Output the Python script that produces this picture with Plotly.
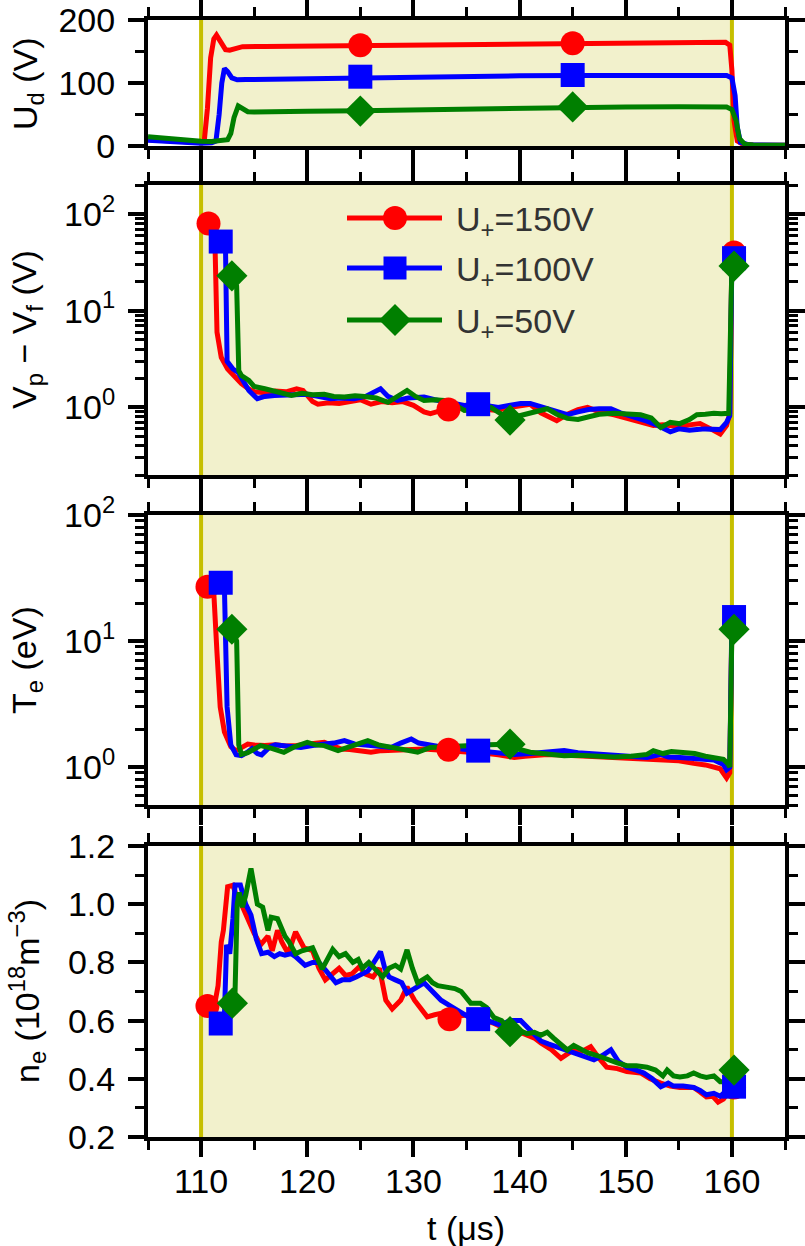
import math
import plotly.graph_objects as go

W, H = 805, 1246

# ---------------- data ----------------
# Panel 1: discharge voltage U_d (V)
t_ud_red = [105, 106, 107, 108, 109, 110, 110.3, 110.6, 110.9, 111.2, 111.45, 111.8, 112.3, 112.7, 113.2, 113.9, 116, 120, 125, 130, 135, 140, 145, 150, 155, 158.5, 159.4, 159.8, 160.0, 160.2, 160.5, 161, 162, 165]
ud_red = [10, 9, 8, 7, 6, 5.5, 8, 60, 140, 170, 176, 165, 153, 152, 155, 157.6, 158, 158.5, 159.5, 160.5, 161.5, 162.3, 163, 163.8, 164.5, 165, 164.5, 160, 120, 40, 8, 3, 1.5, 1]
t_ud_blue = [105, 106, 107, 108, 109, 110, 111, 111.4, 111.7, 111.95, 112.2, 112.5, 112.9, 113.4, 114.2, 116, 120, 125, 130, 135, 140, 145, 150, 155, 158.5, 159.5, 160, 160.3, 160.5, 160.8, 161.5, 163, 165]
ud_blue = [9, 8, 7, 6, 5, 4.5, 5, 8, 50, 100, 123, 118, 108, 105, 105.5, 106, 107, 108.5, 109.5, 110.5, 111.5, 112, 112.5, 113, 113, 112, 108, 80, 30, 6, 2, 1, 1]
t_ud_green = [105, 106, 107, 108, 109, 110, 111, 112, 112.5, 112.8, 113.1, 113.5, 113.9, 114.4, 115, 116, 120, 125, 130, 135, 140, 145, 150, 155, 158.5, 159.5, 160, 160.4, 160.7, 161.2, 162, 165]
ud_green = [14.8, 13, 11.5, 10, 8.5, 7.5, 7, 8, 10, 20, 45, 63.5, 60, 54.5, 54, 54.5, 55, 56, 57.5, 58.5, 60, 61.5, 62, 62.5, 63, 62, 58, 40, 12, 3, 1.5, 1]
mk_ud_t = [125, 145]
mk_ud_red = [160, 163]
mk_ud_blue = [110, 112.7]
mk_ud_green = [55.5, 62]

# Panel 2: V_p - V_f (V)
t_vp_red = [110.7, 111.3, 111.5, 111.9, 112.5, 113.0, 113.5, 113.8, 114.5, 115, 116, 117, 118, 119, 119.6, 120.5, 121, 122, 123, 124, 125, 126, 127, 128, 129, 130, 131, 131.6, 132.5, 133.3, 134, 135, 136, 137, 137.9, 139, 140, 141, 142, 143.5, 144.5, 145.5, 146.4, 147.5, 148.9, 150.4, 151.5, 152.6, 153.5, 155.1, 156, 157, 158, 158.9, 159.5, 159.8, 160.0]
vp_red = [80, 55, 6, 3.3, 2.5, 2.2, 1.9, 1.76, 1.55, 1.45, 1.42, 1.48, 1.45, 1.56, 1.5, 1.15, 1.08, 1.12, 1.1, 1.15, 1.2, 1.08, 1.15, 1.12, 1.15, 1.05, 0.9, 0.86, 0.92, 0.93, 1.0, 1.05, 1.02, 0.95, 0.93, 1.0, 1.05, 1.08, 0.88, 0.73, 0.85, 0.95, 1.0, 0.9, 0.84, 0.76, 0.7, 0.65, 0.66, 0.63, 0.66, 0.68, 0.6, 0.53, 0.65, 0.87, 38]
t_vp_blue = [111.85, 112.3, 112.45, 113, 113.5, 113.8, 114.5, 115.3, 116, 116.9, 118, 119, 120, 121, 122.2, 123.2, 124.4, 125.5, 126.9, 127.6, 128.5, 129.5, 131, 132, 132.9, 134, 134.8, 136.1, 137, 138, 139, 140.1, 141, 142.5, 143.5, 144.5, 145.5, 146.5, 147.5, 148.6, 149.5, 151.1, 152, 153, 154.2, 155, 156, 156.7, 157.5, 158.9, 159.5, 159.8, 160.0]
vp_blue = [52, 45, 3, 2.5, 2.3, 2.0, 1.5, 1.23, 1.3, 1.33, 1.35, 1.37, 1.37, 1.3, 1.23, 1.25, 1.23, 1.3, 1.56, 1.3, 1.18, 1.25, 1.28, 1.2, 1.15, 1.1, 1.05, 1.08, 1.05, 1.0, 1.05, 1.1, 1.1, 0.98, 0.9, 0.84, 0.9, 0.95, 0.97, 0.97, 0.88, 0.78, 0.72, 0.65, 0.56, 0.6, 0.58, 0.59, 0.6, 0.59, 0.7, 0.82, 35]
t_vp_green = [112.9, 113.35, 113.55, 113.8, 114.5, 115, 116, 117, 118.5, 119.5, 120.5, 121.6, 122.5, 123.5, 124.5, 125.4, 126.5, 127.6, 128.5, 129.4, 130.2, 131, 132, 132.9, 134, 134.8, 136, 137.3, 138.3, 139.1, 140, 141, 142.6, 143.5, 144.5, 145.5, 146.5, 147.5, 148.9, 150, 151.4, 152.4, 153.3, 154.2, 155.1, 156, 156.7, 157.5, 158.3, 159, 159.7, 160.0]
vp_green = [23, 18, 2.4, 2.14, 1.9, 1.65, 1.56, 1.45, 1.33, 1.4, 1.35, 1.37, 1.3, 1.28, 1.32, 1.3, 1.25, 1.13, 1.3, 1.5, 1.3, 1.18, 1.2, 1.18, 1.05, 0.93, 0.95, 1.0, 0.85, 0.78, 0.82, 0.87, 0.97, 0.85, 0.77, 0.75, 0.8, 0.85, 0.87, 0.86, 0.84, 0.78, 0.62, 0.7, 0.68, 0.75, 0.84, 0.85, 0.87, 0.86, 0.87, 30]
mk_vp_t_red = [110.7, 133.3, 160.2]
mk_vp_red = [80, 0.95, 40]
mk_vp_t_blue = [111.85, 136.1, 160.2]
mk_vp_blue = [52, 1.08, 35]
mk_vp_t_green = [112.9, 139.1, 160.2]
mk_vp_green = [23, 0.74, 29]

# Panel 3: T_e (eV)
t_te_red = [110.6, 111.2, 111.5, 111.8, 112.2, 112.8, 113.3, 114, 114.4, 115, 116, 117, 118, 119, 120, 121, 121.6, 122.5, 123.2, 124, 125, 126, 127, 128, 129, 130, 131, 132, 133.3, 134, 135, 136, 137, 138, 139.5, 140.5, 141.5, 142.6, 143.5, 144.5, 145.7, 146.5, 147.5, 148.5, 149.5, 150.5, 151.5, 152.5, 153.9, 155, 156.4, 157.5, 158.9, 159.5, 159.8, 160.0]
te_red = [27, 24, 8, 3, 1.9, 1.45, 1.35, 1.45, 1.52, 1.5, 1.48, 1.5, 1.47, 1.48, 1.5, 1.55, 1.57, 1.45, 1.39, 1.38, 1.35, 1.31, 1.35, 1.36, 1.38, 1.4, 1.39, 1.37, 1.35, 1.33, 1.3, 1.3, 1.28, 1.25, 1.19, 1.22, 1.25, 1.26, 1.25, 1.24, 1.23, 1.22, 1.2, 1.18, 1.17, 1.18, 1.17, 1.16, 1.14, 1.12, 1.07, 1.04, 0.97, 0.82, 0.9, 14]
t_te_blue = [111.85, 112.2, 112.45, 112.8, 113.3, 113.8, 114.3, 114.8, 115.3, 115.7, 116.5, 117, 118, 119.4, 120.5, 121.5, 122.5, 123.5, 124.5, 126, 127.9, 128.8, 129.8, 130.5, 131.6, 132.5, 134.1, 136.1, 137.5, 139.5, 141, 142.5, 144.2, 145.5, 147, 148.9, 150.5, 152, 153.3, 154, 155.1, 156.5, 158.3, 159.2, 159.5, 159.8, 160.0]
te_blue = [29, 26, 3, 1.5, 1.25, 1.23, 1.3, 1.4, 1.28, 1.25, 1.45, 1.5, 1.47, 1.43, 1.48, 1.5, 1.55, 1.62, 1.52, 1.48, 1.43, 1.55, 1.67, 1.55, 1.48, 1.45, 1.4, 1.35, 1.3, 1.26, 1.28, 1.32, 1.35, 1.3, 1.27, 1.23, 1.2, 1.19, 1.26, 1.2, 1.19, 1.17, 1.14, 1.05, 0.95, 1.0, 15.5]
t_te_green = [112.9, 113.35, 113.55, 113.8, 114.4, 115.3, 115.6, 116.5, 117.8, 118.8, 120, 120.8, 121.6, 122.9, 124, 125.7, 126.7, 127.9, 129, 130.4, 131.6, 133, 134.1, 135.5, 137, 139.1, 140, 141, 142.5, 144.2, 145.5, 147, 148.9, 150.5, 152, 152.6, 153.5, 154.3, 155.1, 156.5, 157.5, 158.3, 159.2, 159.6, 159.8, 160.0]
te_green = [12.4, 10, 1.5, 1.26, 1.3, 1.43, 1.48, 1.42, 1.31, 1.45, 1.57, 1.5, 1.48, 1.35, 1.45, 1.62, 1.5, 1.43, 1.38, 1.31, 1.43, 1.45, 1.48, 1.47, 1.5, 1.52, 1.38, 1.31, 1.28, 1.23, 1.24, 1.22, 1.2, 1.22, 1.26, 1.35, 1.28, 1.33, 1.31, 1.28, 1.22, 1.19, 1.15, 1.07, 1.0, 12.4]
mk_te_t_red = [110.6, 133.3, 160.2]
mk_te_red = [27, 1.37, 14]
mk_te_t_blue = [111.85, 136.1, 160.2]
mk_te_blue = [29, 1.35, 15.5]
mk_te_t_green = [112.9, 139.1, 160.2]
mk_te_green = [12.4, 1.52, 12.4]

# Panel 4: n_e (1e18 m^-3)
t_ne_red = [110.6, 111.3, 111.6, 111.9, 112.1, 112.5, 113.0, 113.4, 113.8, 114.4, 115, 115.6, 116.3, 116.7, 117.2, 117.6, 118.2, 118.9, 119.7, 120.5, 121.1, 121.7, 122.3, 123, 123.6, 124.2, 124.9, 125.5, 126.2, 126.8, 127.4, 128, 128.8, 129.4, 130.1, 130.7, 131.3, 132, 132.6, 133.4, 134.3, 135.1, 136, 136.8, 137.6, 138.8, 139.7, 140.7, 141.4, 142, 143, 143.9, 144.5, 145.1, 145.9, 146.7, 147.5, 148.2, 149.2, 150.1, 151.4, 152.3, 153.3, 154.2, 155.1, 155.8, 156.4, 157, 157.6, 158.2, 158.7, 159.2, 159.6]
ne_red = [0.65, 0.66, 0.72, 0.87, 0.91, 1.06, 1.065, 1.02, 1.0, 0.945, 0.9, 0.86, 0.89, 0.84, 0.91, 0.87, 0.83, 0.905, 0.85, 0.84, 0.78, 0.74, 0.76, 0.78, 0.755, 0.76, 0.785, 0.76, 0.75, 0.78, 0.67, 0.64, 0.67, 0.716, 0.67, 0.64, 0.613, 0.62, 0.625, 0.61, 0.615, 0.62, 0.6, 0.6, 0.59, 0.57, 0.565, 0.55, 0.54, 0.523, 0.5, 0.47, 0.485, 0.5, 0.495, 0.51, 0.47, 0.44, 0.435, 0.425, 0.42, 0.4, 0.385, 0.375, 0.37, 0.37, 0.37, 0.355, 0.338, 0.34, 0.32, 0.33, 0.35]
t_ne_blue = [111.85, 112.2, 112.4, 112.7, 113.0, 113.2, 113.7, 114.2, 114.7, 115.2, 115.7, 116.3, 116.9, 117.4, 117.9, 118.5, 118.9, 119.4, 119.8, 120.5, 121.1, 121.8, 122.4, 122.7, 123.3, 124, 124.6, 125.2, 125.7, 126.1, 126.9, 127.3, 127.7, 128.3, 128.9, 129.4, 130.2, 131, 131.8, 132.6, 133.5, 134.5, 135.3, 136.1, 137.0, 138.2, 139.1, 140.1, 141, 142, 142.7, 143.5, 144.3, 145.1, 146, 147, 147.8, 148.6, 149.3, 150.1, 151, 151.7, 152.5, 153.3, 154, 154.5, 155.4, 156.4, 157, 157.6, 158.3, 158.9, 159.5]
ne_blue = [0.59, 0.62, 0.86, 0.83, 0.95, 1.066, 1.066, 1.0, 0.963, 0.88, 0.83, 0.835, 0.82, 0.83, 0.825, 0.83, 0.82, 0.8, 0.79, 0.8, 0.8, 0.77, 0.745, 0.73, 0.74, 0.74, 0.75, 0.76, 0.77, 0.79, 0.837, 0.78, 0.75, 0.74, 0.73, 0.694, 0.71, 0.73, 0.7, 0.67, 0.65, 0.63, 0.61, 0.605, 0.6, 0.585, 0.6, 0.6, 0.565, 0.53, 0.52, 0.51, 0.5, 0.488, 0.475, 0.465, 0.48, 0.5, 0.46, 0.44, 0.43, 0.42, 0.4, 0.373, 0.385, 0.375, 0.375, 0.37, 0.36, 0.345, 0.35, 0.34, 0.36]
t_ne_green = [112.95, 113.2, 113.4, 113.6, 113.9, 114.2, 114.7, 115.3, 115.8, 116.3, 116.6, 117.2, 117.9, 118.3, 118.9, 119.5, 120.5, 121.4, 122.4, 123, 123.6, 124.3, 124.8, 125.2, 125.8, 126.5, 127.1, 127.7, 128.3, 128.8, 129.4, 129.9, 130.4, 131.3, 131.8, 132.3, 133.2, 133.9, 134.5, 135.4, 136.3, 136.9, 137.6, 138.3, 139.1, 140, 140.7, 141.4, 142, 142.6, 143.2, 143.8, 144.5, 145.1, 145.8, 146.4, 147.3, 148.2, 149.2, 150.1, 151, 152, 152.8, 153.5, 153.9, 154.5, 155.1, 155.8, 156.4, 157, 157.6, 158.3, 158.9, 159.5, 160.1]
ne_green = [0.66, 0.7, 1.0, 1.04, 0.99, 1.03, 1.123, 1.0, 0.99, 0.91, 0.955, 0.95, 0.89, 0.87, 0.83, 0.84, 0.85, 0.777, 0.845, 0.82, 0.83, 0.8, 0.81, 0.78, 0.8, 0.77, 0.75, 0.78, 0.79, 0.777, 0.843, 0.78, 0.73, 0.75, 0.73, 0.72, 0.715, 0.71, 0.7, 0.66, 0.66, 0.645, 0.61, 0.6, 0.565, 0.565, 0.555, 0.56, 0.55, 0.56, 0.54, 0.52, 0.499, 0.515, 0.5, 0.49, 0.48, 0.466, 0.455, 0.445, 0.445, 0.44, 0.43, 0.41, 0.43, 0.41, 0.406, 0.41, 0.42, 0.41, 0.405, 0.41, 0.39, 0.39, 0.43]
mk_ne_t_red = [110.6, 133.4, 160.2]
mk_ne_red = [0.65, 0.605, 0.37]
mk_ne_t_blue = [111.85, 136.1, 160.2]
mk_ne_blue = [0.59, 0.605, 0.373]
mk_ne_t_green = [112.95, 139.1, 160.2]
mk_ne_green = [0.66, 0.562, 0.43]

series_names = ["U<sub>+</sub>=150V", "U<sub>+</sub>=100V", "U<sub>+</sub>=50V"]
x_major = [110, 120, 130, 140, 150, 160]
x_minor = [105, 115, 125, 135, 145, 155, 165]

# ---------------- styling ----------------
RED, BLUE, GREEN = "#FF0000", "#0000FF", "#007F00"
COLORS = [RED, BLUE, GREEN]
SYMBOLS = ["circle", "square", "diamond"]
SHADE = "#F2F1CC"
EDGE = "#C6BF00"
FONT = "Liberation Sans, Arial, sans-serif"
FS = 34
LW = 5
AXW = 4


def px(x):
    return x / W


def py(y):
    return 1 - y / H


fig = go.Figure()

panels = [
    ("", [(t_ud_red, ud_red), (t_ud_blue, ud_blue), (t_ud_green, ud_green)],
     [(mk_ud_t, mk_ud_red), (mk_ud_t, mk_ud_blue), (mk_ud_t, mk_ud_green)]),
    ("2", [(t_vp_red, vp_red), (t_vp_blue, vp_blue), (t_vp_green, vp_green)],
     [(mk_vp_t_red, mk_vp_red), (mk_vp_t_blue, mk_vp_blue), (mk_vp_t_green, mk_vp_green)]),
    ("3", [(t_te_red, te_red), (t_te_blue, te_blue), (t_te_green, te_green)],
     [(mk_te_t_red, mk_te_red), (mk_te_t_blue, mk_te_blue), (mk_te_t_green, mk_te_green)]),
    ("4", [(t_ne_red, ne_red), (t_ne_blue, ne_blue), (t_ne_green, ne_green)],
     [(mk_ne_t_red, mk_ne_red), (mk_ne_t_blue, mk_ne_blue), (mk_ne_t_green, mk_ne_green)]),
]

for suf, lines, marks in panels:
    for i, (tx, vy) in enumerate(lines):
        fig.add_trace(go.Scatter(x=tx, y=vy, mode="lines", name=series_names[i],
                                 line=dict(color=COLORS[i], width=LW), showlegend=False,
                                 xaxis="x" + suf, yaxis="y" + suf))
    for i, (tx, vy) in enumerate(marks):
        fig.add_trace(go.Scatter(x=tx, y=vy, mode="markers", name=series_names[i],
                                 marker=dict(color=COLORS[i], symbol=SYMBOLS[i], size=24,
                                             line=dict(width=0)),
                                 showlegend=False, cliponaxis=False,
                                 xaxis="x" + suf, yaxis="y" + suf))

# domains in pixels (top, bottom)
pix = [(20, 146), (185, 475), (515, 805), (846, 1137)]
xdom = [px(148), px(785)]

axis_common = dict(showline=True, linewidth=AXW, linecolor="black", mirror="ticks",
                   ticks="outside", ticklen=16, tickwidth=AXW, tickcolor="black",
                   showgrid=False, zeroline=False, automargin=False,
                   tickfont=dict(family=FONT, size=FS, color="black"))
minor_common = dict(ticks="outside", ticklen=9, tickwidth=3, tickcolor="black")

layout = dict(width=W, height=H, margin=dict(l=0, r=0, t=0, b=0, autoexpand=False),
              paper_bgcolor="white", plot_bgcolor="white", showlegend=False,
              font=dict(family=FONT, size=FS, color="black"))

ykeys = ["yaxis", "yaxis2", "yaxis3", "yaxis4"]
xkeys = ["xaxis", "xaxis2", "xaxis3", "xaxis4"]
yanchors = ["y", "y2", "y3", "y4"]
xanchors = ["x", "x2", "x3", "x4"]

for k in range(4):
    top, bot = pix[k]
    layout[xkeys[k]] = dict(axis_common, domain=xdom, anchor=yanchors[k], range=[105, 165],
                            tickvals=x_major, showticklabels=(k == 3), ticklabelstandoff=-5,
                            minor=dict(minor_common, tickvals=x_minor))
    layout[ykeys[k]] = dict(axis_common, domain=[py(bot), py(top)], anchor=xanchors[k],
                            ticklabelstandoff=6)

log_minor = [0.2, 0.3, 0.4, 0.5, 0.6, 0.7, 0.8, 0.9, 2, 3, 4, 5, 6, 7, 8, 9,
             20, 30, 40, 50, 60, 70, 80, 90, 200]
log_text = ["10<sup>0</sup>", "10<sup>1</sup>", "10<sup>2</sup>"]
layout["yaxis"].update(range=[0, 200], tickvals=[0, 100, 200],
                       minor=dict(minor_common, tickvals=[50, 150]))
layout["yaxis2"].update(type="log", range=[math.log10(0.2), math.log10(200)],
                        tickvals=[1, 10, 100], ticktext=log_text,
                        minor=dict(minor_common, tickvals=log_minor))
layout["yaxis3"].update(type="log", range=[math.log10(0.5), 2],
                        tickvals=[1, 10, 100], ticktext=log_text,
                        minor=dict(minor_common, tickvals=log_minor))
layout["yaxis4"].update(range=[0.2, 1.2], tickvals=[0.2, 0.4, 0.6, 0.8, 1.0, 1.2], tickformat=".1f",
                        minor=dict(minor_common, tickvals=[0.3, 0.5, 0.7, 0.9, 1.1]))

fig.update_layout(**layout)

# shaded pulse window and its edges
for k in range(4):
    xr = xanchors[k]
    yr = yanchors[k] + " domain"
    fig.add_shape(type="rect", xref=xr, yref=yr, x0=110, x1=160, y0=0, y1=1,
                  fillcolor=SHADE, line=dict(width=0), layer="below")
    for xv in (110, 160):
        fig.add_shape(type="line", xref=xr, yref=yr, x0=xv, x1=xv, y0=0, y1=1,
                      line=dict(color=EDGE, width=4), layer="below")

# custom legend (layout decoration)
rows = [218, 268, 320]
for i, yrow in enumerate(rows):
    fig.add_shape(type="line", xref="paper", yref="paper", x0=px(347), x1=px(442),
                  y0=py(yrow), y1=py(yrow), line=dict(color=COLORS[i], width=LW))
    cx = 395
    if SYMBOLS[i] == "circle":
        fig.add_shape(type="circle", xref="paper", yref="paper", x0=px(cx - 12), x1=px(cx + 12),
                      y0=py(yrow + 12), y1=py(yrow - 12), fillcolor=COLORS[i], line=dict(width=0))
    elif SYMBOLS[i] == "square":
        fig.add_shape(type="rect", xref="paper", yref="paper", x0=px(cx - 11.5), x1=px(cx + 11.5),
                      y0=py(yrow + 11.5), y1=py(yrow - 11.5), fillcolor=COLORS[i], line=dict(width=0))
    else:
        d = 16
        path = (f"M {px(cx - d)},{py(yrow)} L {px(cx)},{py(yrow - d)} "
                f"L {px(cx + d)},{py(yrow)} L {px(cx)},{py(yrow + d)} Z")
        fig.add_shape(type="path", xref="paper", yref="paper", path=path,
                      fillcolor=COLORS[i], line=dict(width=0))
    fig.add_annotation(xref="paper", yref="paper", x=px(454), y=py(yrow + 3), xanchor="left",
                       yanchor="middle", text=series_names[i], showarrow=False,
                       font=dict(family=FONT, size=FS, color="#333333"))

# axis titles
ytitles = [("U<sub>d</sub> (V)", 83),
           ("V<sub>p</sub> − V<sub>f</sub> (V)", 330),
           ("T<sub>e</sub> (eV)", 660),
           ("n<sub>e</sub> (10<sup>18</sup>m<sup>−3</sup>)", 991)]
for txt, yc in ytitles:
    fig.add_annotation(xref="paper", yref="paper", x=px(27), y=py(yc), xanchor="center",
                       yanchor="middle", text=txt, textangle=-90, showarrow=False,
                       font=dict(family=FONT, size=FS, color="black"))
fig.add_annotation(xref="paper", yref="paper", x=px(466), y=py(1228), xanchor="center",
                   yanchor="middle", text="t (μs)", showarrow=False,
                   font=dict(family=FONT, size=FS, color="black"))

fig.write_html("out.html")
